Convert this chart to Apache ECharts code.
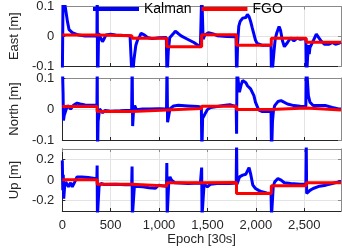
<!DOCTYPE html>
<html><head><meta charset="utf-8">
<script src="https://cdn.jsdelivr.net/npm/echarts@6/dist/echarts.min.js"></script>
<style>html,body{margin:0;padding:0;background:#fff}#c{width:342px;height:252px}</style>
</head><body><div id="c"></div>
<script>
// ---- data (epoch, value in metres) ----
const kalmanEast = [
[0,-0.15],[8,0.15],[30,0.1],[53,0.05],[70,0.022],[103,0.012],[169,0.004],[235,0.001],[334,0.001],[358,0.0],
[361,0.2],[364,-0.2],[375,0.01],[395,-0.005],[415,-0.018],[430,-0.01],[450,0.004],[500,0.007],[550,0.004],[620,0.003],[700,0.002],[718,0.0],
[722,-0.15],[740,-0.08],[760,-0.03],[780,-0.01],[800,0.0],[815,0.01],[830,0.014],[850,0.004],[880,-0.004],[930,-0.008],[1000,-0.005],[1075,-0.004],
[1082,-0.15],[1095,-0.05],[1110,-0.005],[1146,0.008],[1168,0.017],[1195,0.01],[1228,0.001],[1294,-0.01],[1360,-0.021],[1427,-0.036],[1438,-0.036],
[1441,0.15],[1455,-0.01],[1475,0.005],[1510,0.012],[1560,0.008],[1600,0.002],[1700,-0.001],[1795,-0.002],
[1802,-0.15],[1812,-0.02],[1824,0.034],[1838,0.05],[1864,0.061],[1880,0.067],[1897,0.063],[1913,0.073],[1930,0.066],[1946,0.05],[1963,0.028],[1980,0.007],[1996,-0.013],[2013,-0.024],[2029,-0.029],[2062,-0.03],[2128,-0.03],[2157,-0.03],
[2162,-0.15],[2185,-0.06],[2200,-0.01],[2215,0.01],[2240,0.033],[2255,0.02],[2275,-0.015],[2295,-0.035],[2327,-0.021],[2360,-0.005],[2393,-0.016],[2426,-0.006],[2459,-0.01],[2517,-0.008],
[2522,-0.15],[2535,-0.07],[2545,-0.03],[2552,-0.06],[2559,-0.038],[2592,-0.016],[2625,0.007],[2642,0.002],[2675,-0.016],[2708,-0.027],[2757,-0.027],[2790,-0.021],[2823,-0.027],[2856,-0.024],[2880,-0.02]
];
const kalmanNorth = [
[0,0.15],[8,0.05],[12,-0.037],[20,-0.02],[36,-0.005],[53,0.011],[86,0.0],[119,0.013],[152,0.019],[185,0.016],[235,0.013],[334,0.012],[358,0.012],
[361,0.15],[364,-0.15],[370,-0.04],[385,0.0],[400,0.004],[417,-0.012],[440,-0.005],[500,-0.007],[600,-0.006],[717,-0.004],
[722,0.15],[727,-0.055],[735,-0.01],[748,0.011],[765,-0.002],[830,0.0],[900,0.0],[1000,0.001],[1077,0.0],
[1082,0.15],[1088,-0.043],[1112,0.0],[1129,0.005],[1150,0.01],[1200,0.012],[1300,0.01],[1400,0.008],[1437,0.006],
[1442,-0.15],[1450,-0.03],[1466,-0.021],[1483,-0.011],[1499,-0.002],[1532,0.005],[1600,0.008],[1665,0.011],[1731,0.014],[1764,0.011],[1797,0.008],
[1801,-0.08],[1805,0.13],[1830,0.054],[1850,0.08],[1864,0.092],[1897,0.085],[1913,0.075],[1946,0.065],[1980,0.043],[1996,0.022],[2029,-0.003],[2062,-0.008],[2128,-0.008],[2157,-0.007],
[2162,-0.15],[2172,-0.04],[2182,-0.005],[2195,0.011],[2228,0.024],[2261,0.027],[2327,0.016],[2393,0.011],[2459,0.009],[2517,0.008],
[2521,0.15],[2543,0.043],[2559,0.022],[2592,0.011],[2658,0.011],[2724,0.011],[2790,0.005],[2856,0.0],[2880,0.0]
];
const kalmanUp = [
[0,0.19],[5,-0.1],[10,0.05],[15,-0.18],[25,-0.05],[36,-0.02],[63,-0.066],[86,-0.027],[103,-0.066],[129,-0.018],[152,0.03],[202,0.03],[268,0.024],[334,0.014],[357,0.01],
[360,0.14],[363,-0.35],[380,-0.06],[400,-0.034],[433,-0.043],[550,-0.04],[650,-0.045],[717,-0.045],
[721,0.13],[724,-0.35],[745,-0.06],[765,-0.05],[831,-0.066],[897,-0.075],[963,-0.08],[996,-0.05],[1030,-0.055],[1077,-0.06],
[1080,0.165],[1084,-0.35],[1100,-0.02],[1112,0.03],[1129,-0.002],[1162,-0.027],[1300,-0.035],[1427,-0.03],[1437,-0.03],
[1440,0.12],[1444,-0.35],[1465,-0.04],[1483,-0.05],[1499,-0.066],[1532,-0.04],[1598,-0.034],[1731,-0.034],[1797,-0.03],
[1801,0.35],[1805,-0.04],[1831,0.03],[1864,0.047],[1897,0.056],[1930,0.12],[1946,0.06],[1969,-0.05],[1996,-0.082],[2029,-0.1],[2062,-0.114],[2112,-0.125],[2157,-0.13],
[2162,-0.35],[2180,-0.06],[2195,-0.018],[2228,0.014],[2261,-0.002],[2294,-0.027],[2360,-0.034],[2459,-0.04],[2517,-0.04],
[2521,0.35],[2525,-0.13],[2559,-0.1],[2592,-0.082],[2658,-0.06],[2724,-0.05],[2790,-0.034],[2856,-0.018],[2880,-0.015]
];
const fgoEpoch = [0,360,720,1080,1440,1800,2160,2520,2880];
const fgoEast  = [0.004,0.002,-0.007,-0.035,0.005,-0.030,-0.007,-0.020];
const fgoNorth = [0.008,-0.008,-0.003,0.002,0.009,-0.002,0.003,-0.003];
const fgoUp    = [0.003,-0.040,-0.059,-0.027,-0.024,-0.130,-0.055,-0.027];
const xTicks = [0,500,1000,1500,2000,2500];
const yNames = ['East [m]','North [m]','Up [m]'];
const yRanges = [[-0.1,0.1],[-0.1,0.1],[-0.3,0.3]];
const yTicks = [[-0.1,0,0.1],[-0.1,0,0.1],[-0.2,0,0.2]];
const xName = 'Epoch [30s]';
const xMax = 2880;

// ---- chart ----
const FONT = 'Liberation Sans';
const TXT = '#262626';
const gridPos = [{top:5,height:61},{top:78,height:62},{top:149,height:62}];
const kalman = [kalmanEast,kalmanNorth,kalmanUp];
const fgo = [fgoEast,fgoNorth,fgoUp];
function stepData(vals){
  return fgoEpoch.map((e,i)=>[e, vals[Math.min(i, vals.length-1)]]);
}
const grid=[], xAxis=[], yAxis=[], series=[];
for (let i=0;i<3;i++){
  grid.push({left:51, width:290, top:gridPos[i].top, height:gridPos[i].height, containLabel:false});
  xAxis.push({type:'value', gridIndex:i, min:0, max:xMax, position:'bottom',
    axisLine:{show:true, onZero:false, lineStyle:{color:'#262626', width:1}},
    axisTick:{show:true, inside:true, length:3, customValues:xTicks, lineStyle:{color:'#262626'}},
    axisLabel:{show:i===2, customValues:xTicks, margin:8, color:TXT, fontFamily:FONT, fontSize:13},
    splitLine:{show:true, lineStyle:{color:'#e3e3e3', width:1}},
    name: i===2 ? xName : '', nameLocation:'middle', nameGap:22,
    nameTextStyle:{color:TXT, fontFamily:FONT, fontSize:13}
  });
  xAxis.push({type:'value', gridIndex:i, min:0, max:xMax, position:'top',
    axisLine:{show:true, onZero:false, lineStyle:{color:'#8a8a8a', width:1}},
    axisTick:{show:true, inside:true, length:3, customValues:xTicks, lineStyle:{color:'#8a8a8a'}},
    axisLabel:{show:false}, splitLine:{show:false}
  });
  yAxis.push({type:'value', gridIndex:i, min:yRanges[i][0], max:yRanges[i][1], position:'left',
    axisLine:{show:true, onZero:false, lineStyle:{color:'#262626', width:1}},
    axisTick:{show:true, inside:true, length:3, customValues:yTicks[i], lineStyle:{color:'#262626'}},
    axisLabel:{show:true, customValues:yTicks[i], margin:8, color:TXT, fontFamily:FONT, fontSize:13},
    splitLine:{show:true, lineStyle:{color:'#e3e3e3', width:1}},
    name:yNames[i], nameLocation:'middle', nameGap:38,
    nameTextStyle:{color:TXT, fontFamily:FONT, fontSize:13}
  });
  yAxis.push({type:'value', gridIndex:i, min:yRanges[i][0], max:yRanges[i][1], position:'right',
    axisLine:{show:true, onZero:false, lineStyle:{color:'#8a8a8a', width:1}},
    axisTick:{show:true, inside:true, length:3, customValues:yTicks[i], lineStyle:{color:'#8a8a8a'}},
    axisLabel:{show:false}, splitLine:{show:false}
  });
  series.push({name:'Kalman', type:'line', xAxisIndex:2*i, yAxisIndex:2*i, data:kalman[i],
    showSymbol:false, symbol:'none', lineStyle:{color:'#0000ff', width:3}, itemStyle:{color:'#0000ff'}, clip:true, z:2});
  series.push({name:'FGO', type:'line', xAxisIndex:2*i, yAxisIndex:2*i, data:stepData(fgo[i]), step:'end',
    showSymbol:false, symbol:'none', lineStyle:{color:'#ff0000', width:3}, itemStyle:{color:'#ff0000'}, clip:true, z:3});
}
const chart = echarts.init(document.getElementById('c'), null, {renderer:'canvas'});
chart.setOption({
  animation:false,
  backgroundColor:'#ffffff',
  legend:{data:['Kalman','FGO'], left:93, top:2, padding:0, itemGap:10, itemWidth:46, itemHeight:4, icon:'rect',
    textStyle:{color:'#000', fontFamily:FONT, fontSize:14}},
  grid, xAxis, yAxis, series
});
</script></body></html>
